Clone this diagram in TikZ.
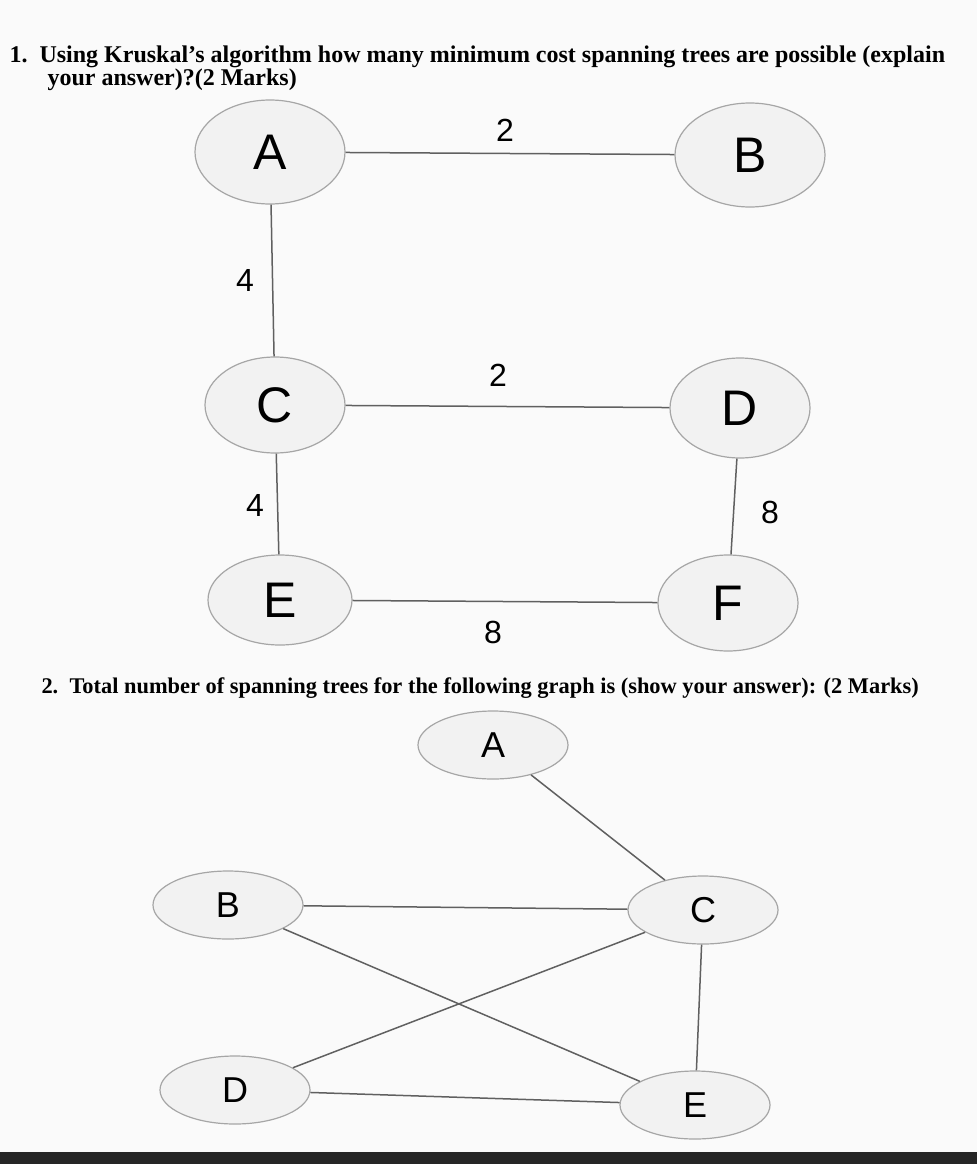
\documentclass[tikz,border=0pt]{standalone}
\usepackage{fontspec}
\usetikzlibrary{shapes.geometric}
\setmainfont{Liberation Serif}
\newfontfamily\lsans{Liberation Sans}
\begin{document}
\begin{tikzpicture}[x=1pt,y=-1pt,
 vtxs/.style={ellipse,draw=gray!70,fill=gray!10,line width=1.2pt,minimum width=150pt,minimum height=68pt,inner sep=0pt,font=\lsans\fontsize{36}{38}\selectfont},
 edge/.style={draw=gray!75!black,line width=1.5pt},
 wt/.style={font=\lsans\fontsize{32}{34}\selectfont},
 q/.style={font=\bfseries\fontsize{24}{26}\selectfont,anchor=west},
 q2s/.style={font=\bfseries\fontsize{22.4}{25}\selectfont,anchor=west}]
\useasboundingbox[fill=gray!4] (0,0) rectangle (977,1164);
\fill[black!85] (0,1152) rectangle (977,1164);
\node[q] (q1) at (6,57) {1.\ \ Using Kruskal’s algorithm how many minimum cost spanning trees are possible (explain};
\node[q] (q1b) at (44,80) {your answer)?(2 Marks)};
% graph 1
\begin{scope}[every node/.append style={ellipse,draw=gray!70,fill=gray!10,line width=1.2pt,font=\lsans\fontsize{50}{52}\selectfont,inner sep=0pt}]
\node[minimum width=150pt,minimum height=104pt] (A) at (270,152) {A};
\node[minimum width=150pt,minimum height=104pt] (B) at (750,155) {B};
\node[minimum width=140pt,minimum height=96pt] (C) at (275,405) {C};
\node[minimum width=140pt,minimum height=100pt] (D) at (740,408) {D};
\node[minimum width=144pt,minimum height=90pt] (E) at (280,600) {E};
\node[minimum width=140pt,minimum height=96pt] (F) at (728,603) {F};
\end{scope}
\draw[edge] (A) -- (B);
\draw[edge] (A) -- (C);
\draw[edge] (C) -- (D);
\draw[edge] (C) -- (E);
\draw[edge] (D) -- (F);
\draw[edge] (E) -- (F);
\node[wt] (w1) at (505,130) {2};
\node[wt] (w2) at (245,280) {4};
\node[wt] (w3) at (498,375) {2};
\node[wt] (w4) at (255,505) {4};
\node[wt] (w5) at (770,512) {8};
\node[wt] (w6) at (493,632) {8};
\node[q2s] (q2) at (38,688) {2.\ \ Total number of spanning trees for the following graph is (show your answer): (2 Marks)};
% graph 2
\node[vtxs] (A2) at (493,745) {A};
\node[vtxs] (B2) at (228,905) {B};
\node[vtxs] (C2) at (703,910) {C};
\node[vtxs] (D2) at (235,1090) {D};
\node[vtxs] (E2) at (695,1105) {E};
\draw[edge] (A2) -- (C2);
\draw[edge] (B2) -- (C2);
\draw[edge] (B2) -- (E2);
\draw[edge] (D2) -- (C2);
\draw[edge] (D2) -- (E2);
\draw[edge] (C2) -- (E2);
\end{tikzpicture}
\end{document}
